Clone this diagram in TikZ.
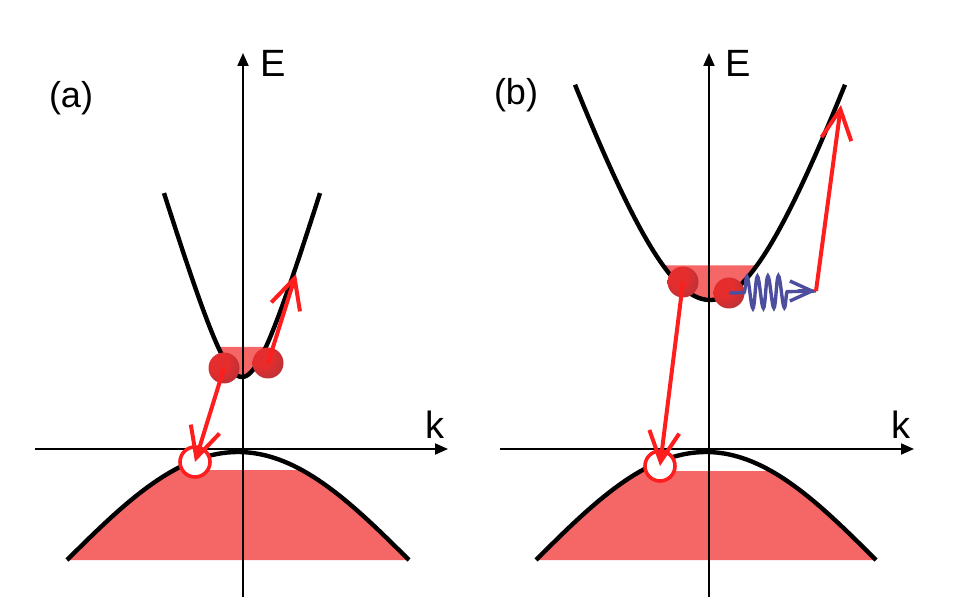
\documentclass[tikz,border=0pt]{standalone}
\usepackage{fontspec}
\setmainfont{Liberation Sans}
\usetikzlibrary{arrows.meta,decorations.pathmorphing}
\definecolor{elA}{RGB}{230,45,45}
\definecolor{elB}{RGB}{150,55,65}
\definecolor{fillred}{RGB}{245,102,102}
\definecolor{arrred}{RGB}{255,30,30}
\definecolor{phon}{RGB}{78,78,158}
\pgfdeclareradialshading[elA,elB]{elball}{\pgfpoint{-14bp}{14bp}}{color(0bp)=(elA); color(16bp)=(elA); color(46bp)=(elB); color(50bp)=(elB)}
\begin{document}
\begin{tikzpicture}[x=1pt,y=-1pt,
  band/.style={line width=4.4pt, black},
  axis/.style={line width=2pt, -{Triangle[length=13pt,width=11pt]}},
  bandfill/.style={fill=fillred, draw=none},
  elec/.style={circle, minimum size=31pt, inner sep=0pt, shading=elball},
  hole/.style={circle, minimum size=30pt, inner sep=0pt, draw=arrred, line width=3.6pt, fill=white},
  trans/.style={arrred, line width=4pt, -{Straight Barb[length=30pt,width=30pt]}},
  phline/.style={phon, line width=3.4pt},
  lbl/.style={font=\fontsize{36}{42}\selectfont, inner sep=0pt},
  axlbl/.style={font=\fontsize{38}{44}\selectfont, inner sep=0pt}]
\useasboundingbox (0,0) rectangle (962,612);

% ---------- panel (a) ----------
\fill[bandfill] plot[domain=218:266,samples=40] (\x,{377-89.4*(sqrt(1+((\x-242)/27)^2)-1)}) -- cycle;
\fill[bandfill] (174,470) -- (302,470)
  -- plot[domain=302:409,samples=50] (\x,{452+108*(1-cos(90*(\x-238)/171))})
  -- (67,560)
  -- plot[domain=67:174,samples=50] (\x,{452+108*(1-cos(90*(\x-238)/171))}) -- cycle;
\node[axlbl] (Ea) at (273,63) {E};
\node[axlbl] (ka) at (435,425) {k};
\coordinate (Ea0) at (243,597);
\coordinate (Ea1) at (243,53);
\coordinate (ka0) at (35,449);
\coordinate (ka1) at (448,449);
\draw[axis] (Ea0) -- (Ea1);
\draw[axis] (ka0) -- (ka1);
\draw[band] plot[domain=164:320,samples=80] (\x,{377-89.4*(sqrt(1+((\x-242)/27)^2)-1)});
\draw[band] plot[domain=67:409,samples=80] (\x,{452+108*(1-cos(90*(\x-238)/171))});
\node[elec] (e1a) at (224,368) {};
\node[elec] (e2a) at (268,363) {};
\node[hole] (ha) at (195,462) {};
\coordinate (upa) at (296,274);
\draw[trans] (e1a.center) -- (ha.center);
\draw[trans] (e2a.center) -- (upa);
\node[lbl] (la) at (71,98) {(a)};

% ---------- panel (b) ----------
\fill[bandfill] plot[domain=663:757,samples=40] (\x,{300-259*(sqrt(1+((\x-710)/88)^2)-1)}) -- cycle;
\fill[bandfill] (642,471) -- (770,471)
  -- plot[domain=770:876,samples=50] (\x,{452+108*(1-cos(90*(\x-706)/170))})
  -- (536,560)
  -- plot[domain=536:642,samples=50] (\x,{452+108*(1-cos(90*(\x-706)/170))}) -- cycle;
\node[axlbl] (Eb) at (738,63) {E};
\node[axlbl] (kb) at (901,425) {k};
\coordinate (Eb0) at (709,597);
\coordinate (Eb1) at (709,53);
\coordinate (kb0) at (500,449);
\coordinate (kb1) at (914,449);
\draw[axis] (Eb0) -- (Eb1);
\draw[axis] (kb0) -- (kb1);
\draw[band] plot[domain=575:845,samples=80] (\x,{300-259*(sqrt(1+((\x-710)/88)^2)-1)});
\draw[band] plot[domain=536:876,samples=80] (\x,{452+108*(1-cos(90*(\x-706)/170))});
\node[elec] (e1b) at (683,282) {};
\node[elec] (e2b) at (729,293) {};
\node[hole] (hb) at (660,466) {};
\coordinate (ph) at (816,291);
\coordinate (phm) at (798,291);
\coordinate (upb) at (841,105);
\draw[trans] (e1b.center) -- (hb.center);
\draw[phline, decorate, decoration={snake, amplitude=16pt, segment length=10.5pt, pre length=15pt, post length=28pt}] (e2b.center) -- (ph);
\draw[phline, -{Straight Barb[length=22pt,width=20pt]}] (phm) -- (ph);
\draw[trans] (ph) -- (upb);
\node[lbl] (lb) at (516,95) {(b)};
\end{tikzpicture}
\end{document}
